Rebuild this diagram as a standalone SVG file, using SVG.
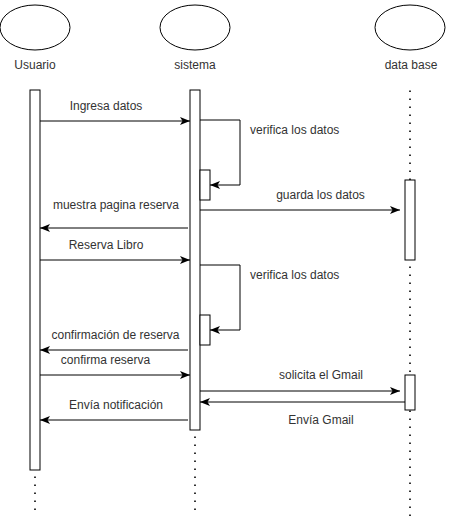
<svg xmlns="http://www.w3.org/2000/svg" width="451" height="523" viewBox="0 0 451 523">
<defs>
<style>
.actor{fill:#fff;stroke:#000;stroke-width:1}
.bar{fill:#fff;stroke:#000;stroke-width:1}
.life{stroke:#000;stroke-width:1.6;stroke-dasharray:1.6 6.4;fill:none}
.msg{stroke:#000;stroke-width:1;fill:none}
text{font-family:"Liberation Sans",Arial,sans-serif;font-size:12px;fill:#333}
.c{text-anchor:middle}
</style>
<marker id="arr" viewBox="0 0 10 8" refX="10" refY="4" markerWidth="10" markerHeight="8" markerUnits="userSpaceOnUse" orient="auto">
<path d="M0,0 L10,4 L0,8 L2.5,4 Z" fill="#000"/>
</marker>
</defs>
<rect width="451" height="523" fill="#fff"/>
<g id="lifelines">
<line class="life" x1="35" y1="476.5" x2="35" y2="511"/>
<line class="life" x1="195" y1="436.5" x2="195" y2="511"/>
<line class="life" x1="410" y1="90.5" x2="410" y2="519"/>
</g>
<g id="usuario">
<ellipse class="actor" cx="35" cy="27.5" rx="35" ry="22.5"/>
<text class="c" x="35" y="69">Usuario</text>
<rect class="bar" x="30" y="90" width="10" height="380"/>
</g>
<g id="sistema">
<ellipse class="actor" cx="195" cy="27.5" rx="35" ry="22.5"/>
<text class="c" x="195" y="69">sistema</text>
<rect class="bar" x="190" y="90" width="10" height="340"/>
<rect class="bar" x="200" y="170" width="10" height="30"/>
<rect class="bar" x="200" y="315" width="10" height="30"/>
</g>
<g id="database">
<ellipse class="actor" cx="410" cy="27.5" rx="35" ry="22.5"/>
<text class="c" x="411" y="69">data base</text>
<rect class="bar" x="405" y="180" width="10" height="80"/>
<rect class="bar" x="405" y="375" width="10" height="35"/>
</g>
<g id="connectors">
<path class="msg" d="M40,121 H190" marker-end="url(#arr)"/>
<path class="msg" d="M200,120 H240 V185 H210" marker-end="url(#arr)"/>
<path class="msg" d="M200,210 H400" marker-end="url(#arr)"/>
<path class="msg" d="M188,228 H40" marker-end="url(#arr)"/>
<path class="msg" d="M40,260 H190" marker-end="url(#arr)"/>
<path class="msg" d="M200,265 H240 V330 H210" marker-end="url(#arr)"/>
<path class="msg" d="M188,350 H40" marker-end="url(#arr)"/>
<path class="msg" d="M40,375 H190" marker-end="url(#arr)"/>
<path class="msg" d="M200,391 H400" marker-end="url(#arr)"/>
<path class="msg" d="M405,402 H200" marker-end="url(#arr)"/>
<path class="msg" d="M188,420 H40" marker-end="url(#arr)"/>
</g>
<g id="labels">
<text class="c" x="106" y="110">Ingresa datos</text>
<text x="250" y="134">verifica los datos</text>
<text class="c" x="320.5" y="199">guarda los datos</text>
<text class="c" x="116" y="209">muestra pagina reserva</text>
<text class="c" x="106" y="249">Reserva Libro</text>
<text x="250" y="279">verifica los datos</text>
<text class="c" x="115.5" y="339">confirmación de reserva</text>
<text class="c" x="105.5" y="364">confirma reserva</text>
<text class="c" x="321" y="379">solicita el Gmail</text>
<text class="c" x="321" y="424">Envía Gmail</text>
<text class="c" x="116" y="409">Envía notificación</text>
</g>
</svg>
